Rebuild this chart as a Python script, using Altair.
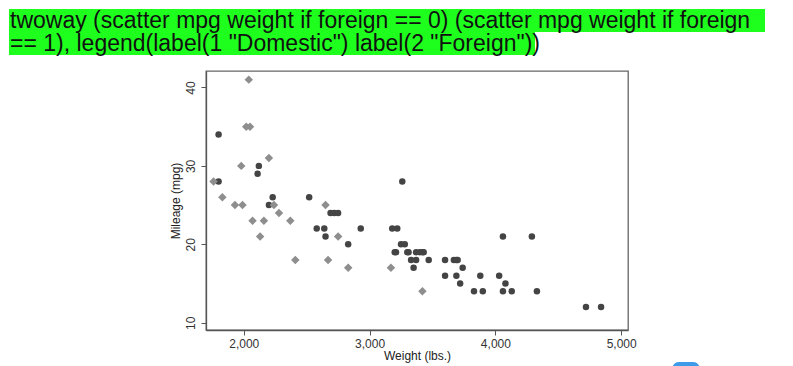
import altair as alt
import pandas as pd

# Domestic cars (foreign == 0)
dom_weight = [2930, 3350, 2640, 3250, 4080, 3670, 2230, 3280, 3880, 3400, 4330, 3900, 4290,
              2110, 3690, 3180, 3220, 2750, 3430, 2120, 3600, 3600, 3740, 1800, 2650, 4840,
              4720, 3830, 2580, 4060, 3720, 3370, 4130, 2830, 4060, 3310, 3300, 3690, 3370,
              2720, 4030, 3260, 1800, 2200, 2520, 3330, 3700, 3470, 3210, 3200, 3420, 2690]
dom_mpg = [22, 17, 22, 20, 15, 18, 26, 20, 16, 19, 14, 14, 21,
           29, 16, 22, 22, 24, 19, 30, 18, 16, 17, 28, 21, 12,
           12, 14, 22, 14, 15, 18, 14, 20, 21, 19, 19, 18, 19,
           24, 16, 28, 34, 25, 26, 18, 18, 18, 19, 19, 19, 24]

# Foreign cars (foreign == 1)
for_weight = [2830, 2070, 2650, 2370, 2020, 2280, 2750, 2240, 1760, 1980, 3420,
              1830, 2050, 2410, 2200, 2670, 2160, 2040, 1930, 1990, 3170, 2130]
for_mpg = [17, 23, 25, 23, 35, 24, 21, 25, 28, 30, 14,
           26, 35, 18, 31, 18, 23, 41, 25, 25, 17, 21]

x_ticks = [2000, 3000, 4000, 5000]
y_ticks = [10, 20, 30, 40]

header_lines = [
    'twoway (scatter mpg weight if foreign == 0) (scatter mpg weight if foreign',
    '== 1), legend(label(1 "Domestic") label(2 "Foreign"))',
]

dom = pd.DataFrame({"weight": dom_weight, "mpg": dom_mpg})
frn = pd.DataFrame({"weight": for_weight, "mpg": for_mpg})
one = pd.DataFrame({"k": [0]})

FONT = "Liberation Sans"

xs = alt.Scale(domain=[1700, 5054], nice=False, zero=False)
ys = alt.Scale(domain=[9.07, 42.1], nice=False, zero=False)

xenc = alt.X("weight:Q", scale=xs,
             axis=alt.Axis(values=x_ticks, format=",.0f", title="Weight (lbs.)",
                           grid=False, labelPadding=3, titlePadding=1))
yenc = alt.Y("mpg:Q", scale=ys,
             axis=alt.Axis(values=y_ticks, title="Mileage (mpg)", grid=False,
                           labelAngle=270, labelAlign="center", labelBaseline="bottom",
                           labelPadding=4, titlePadding=2))

domestic = alt.Chart(dom).mark_point(shape="circle", filled=True, opacity=1,
                                     size=42, color="#444444").encode(x=xenc, y=yenc)
foreign = alt.Chart(frn).mark_point(shape="diamond", filled=True, opacity=1,
                                    size=72, color="#8e8e8e").encode(x="weight:Q", y="mpg:Q")

band1 = alt.Chart(one).mark_rect(color="#1eff1e").encode(
    x=alt.value(-197), x2=alt.value(559), y=alt.value(-62), y2=alt.value(-39))
band2 = alt.Chart(one).mark_rect(color="#1eff1e").encode(
    x=alt.value(-197), x2=alt.value(329), y=alt.value(-39), y2=alt.value(-16))
txt1 = alt.Chart(one).mark_text(align="left", baseline="alphabetic", font=FONT,
                                fontSize=23, color="#111111").encode(
    x=alt.value(-196), y=alt.value(-43.5), text=alt.value(header_lines[0]))
txt2 = alt.Chart(one).mark_text(align="left", baseline="alphabetic", font=FONT,
                                fontSize=23, color="#111111").encode(
    x=alt.value(-196), y=alt.value(-20.5), text=alt.value(header_lines[1]))
# small blue UI element peeking in at the bottom edge of the screenshot
pill = alt.Chart(one).mark_rect(color="#3d9be9", cornerRadius=7).encode(
    x=alt.value(466), x2=alt.value(494), y=alt.value(291), y2=alt.value(305))

chart = alt.layer(band1, band2, txt1, txt2, pill, domestic, foreign).properties(
    width=422, height=259,
    autosize=alt.AutoSizeParams(type="none"),
    padding={"left": 198, "top": 63, "right": 157, "bottom": 36},
).configure_view(
    stroke="#666666", strokeWidth=1.3
).configure_axis(
    domainColor="#555555", domainWidth=1.3, tickColor="#555555", tickWidth=1,
    tickSize=5, labelFont=FONT, labelFontSize=12, labelColor="#333333",
    titleFont=FONT, titleFontSize=12, titleFontWeight="normal", titleColor="#222222",
)

chart.save("out.html", embed_options={"renderer": "svg", "actions": False})
